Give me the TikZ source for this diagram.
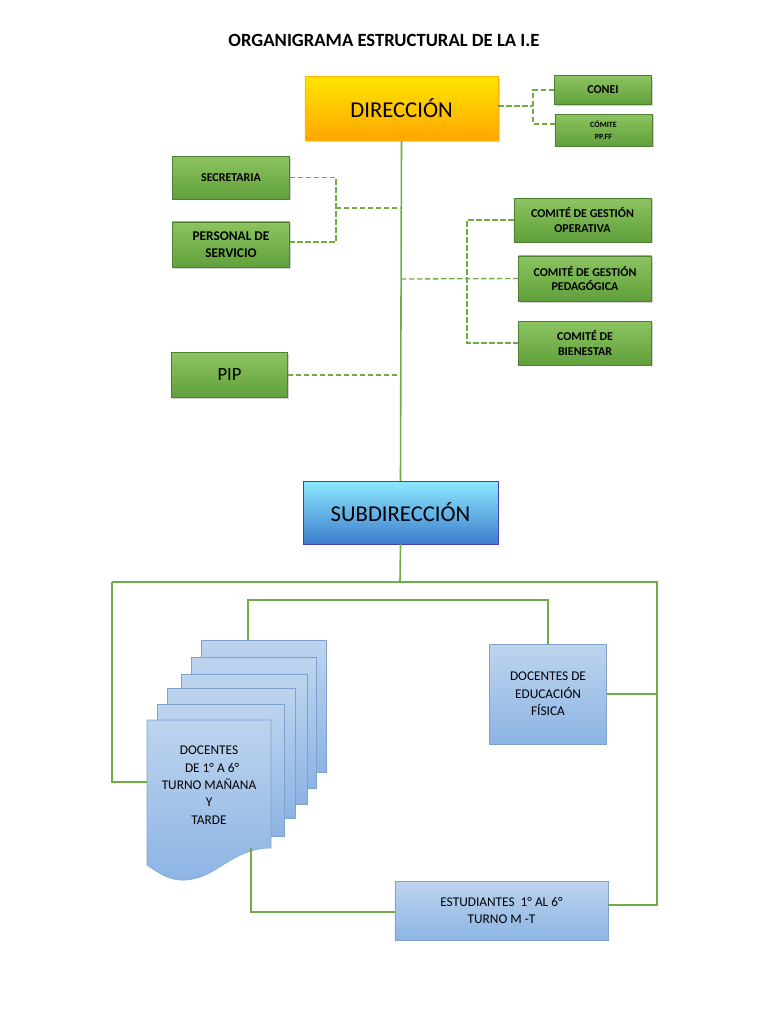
\documentclass[tikz,border=0pt]{standalone}
\usepackage{fontspec}
\setmainfont{Carlito}
\usetikzlibrary{shadows}
\begin{document}
\begin{tikzpicture}[x=0.75pt,y=-0.75pt,
 gbox/.style={draw=green!40!black!60,top color=green!50!black!40!white!60!green!70!black,bottom color=green!55!black,
   drop shadow={shadow xshift=1pt,shadow yshift=-1pt,opacity=.35},font=\bfseries\fontsize{9}{11}\selectfont,align=center,text=black},
 bbox/.style={draw=blue!45!gray!70,top color=blue!15!cyan!10!white!80!gray,bottom color=blue!40!cyan!35!white!70!gray,font=\fontsize{10}{13}\selectfont,align=center},
 ln/.style={draw=green!45!black!70!lime!90!black,line width=1.2pt},
 dl/.style={ln,dashed,line width=1pt,dash pattern=on 4pt off 2pt}]
\useasboundingbox (0,0) rectangle (768,1024);
\definecolor{gtop}{RGB}{140,196,96}\definecolor{gbot}{RGB}{96,160,60}
\definecolor{btop}{RGB}{190,212,238}\definecolor{bbot}{RGB}{140,180,228}
\definecolor{lg}{RGB}{112,172,70}
\tikzset{gbox/.append style={top color=gtop,bottom color=gbot,draw=gbot!80!black},
 bbox/.append style={top color=btop,bottom color=bbot,draw=bbot!90!black},
 ln/.append style={draw=lg}}
\node[font=\bfseries\fontsize{14}{16}\selectfont] (title) at (384,40) {ORGANIGRAMA ESTRUCTURAL DE LA I.E};
\node[minimum width=145pt,minimum height=48pt,top color=yellow!80!orange,bottom color=orange!70!yellow,draw=orange!60!yellow,
 drop shadow={shadow xshift=1pt,shadow yshift=-1pt,opacity=.35},font=\fontsize{17}{20}\selectfont] (dir) at (401.5,108.5) {DIRECCIÓN};
\node[gbox,minimum width=73pt,minimum height=22pt] (conei) at (603,90) {CONEI};
\node[gbox,minimum width=73pt,minimum height=24pt,font=\bfseries\fontsize{6}{9}\selectfont] (ppff) at (603.5,130) {CÓMITE\\PP.FF};
\node[gbox,minimum width=88pt,minimum height=32pt] (sec) at (231,177.5) {SECRETARIA};
\node[gbox,minimum width=88pt,minimum height=34pt,font=\bfseries\fontsize{10}{13}\selectfont] (per) at (231,244.5) {PERSONAL DE\\SERVICIO};
\node[gbox,minimum width=103pt,minimum height=33pt] (go) at (582.5,220) {COMITÉ DE GESTIÓN\\OPERATIVA};
\node[gbox,minimum width=100pt,minimum height=34pt] (gp) at (585,278.5) {COMITÉ DE GESTIÓN\\PEDAGÓGICA};
\node[gbox,minimum width=100pt,minimum height=33pt] (bi) at (585,343) {COMITÉ DE\\BIENESTAR};
\node[gbox,minimum width=87pt,minimum height=34pt,font=\fontsize{14}{16}\selectfont] (pip) at (229.5,375) {PIP};
\node[minimum width=146pt,minimum height=47pt,top color=blue!20!cyan!45!white,bottom color=blue!55!cyan!70!white!80!black,draw=blue!50!gray,
 drop shadow={shadow xshift=1pt,shadow yshift=-1pt,opacity=.35},font=\fontsize{17}{20}\selectfont] (sub) at (400.5,512.5) {SUBDIRECCIÓN};
\node[bbox,minimum width=88pt,minimum height=75pt] (ef) at (548,694) {DOCENTES DE\\EDUCACIÓN\\FÍSICA};
\node[bbox,minimum width=160pt,minimum height=44pt] (est) at (501.5,910.5) {ESTUDIANTES \ 1° AL 6°\\TURNO M -T};
% document stack
\foreach \l/\t/\r/\b in {201/640/326/772,191/657/316/788,181/674/307/804,167/688/295/818,157/704/284/836}
 \fill[bbox] (\l,\t) rectangle (\r,\b);
\coordinate (d6) at (248,640);
\path[bbox] (147,720) -- (271,720) -- (271,848) .. controls (230,848) and (215,882) .. (180,880) .. controls (165,879) and (155,870) .. (147,865) -- cycle;
\node[font=\fontsize{10}{13}\selectfont,align=center] (doc) at (209,785) {DOCENTES\\ \ \ DE 1° A 6°\\TURNO MAÑANA\\Y\\TARDE};
\coordinate (dl) at (147,782); \coordinate (db) at (251,848);
% connectors
\draw[ln] (dir.south) -- (sub.north);
\draw[dl] (dir.east|-0,106) -- (533,106);
\draw[dl] (conei.west) -| (533,124) -- (ppff.west|-0,124);
\draw[dl] (sec.east) -| (336,242) -- (per.east|-0,242);
\draw[dl] (336,208) -- (401,208);
\draw[dl] (go.west) -| (467,343) -- (bi.west);
\draw[dl] (401,279) -- (gp.west);
\draw[dl] (pip.east) -- (401,375);
\draw[ln] (sub.south) -- (400,582);
\draw[ln] (112,582) -- (657,582) -- (657,905) -- (est.east|-0,905);
\draw[ln] (112,582) -- (112,782) -- (dl);
\draw[ln] (d6) -- (248,600) -- (548,600) -- (ef.north);
\draw[ln] (ef.east) -- (657,694);
\draw[ln] (db) -- (251,912) -- (est.west|-0,912);
\end{tikzpicture}
\end{document}
